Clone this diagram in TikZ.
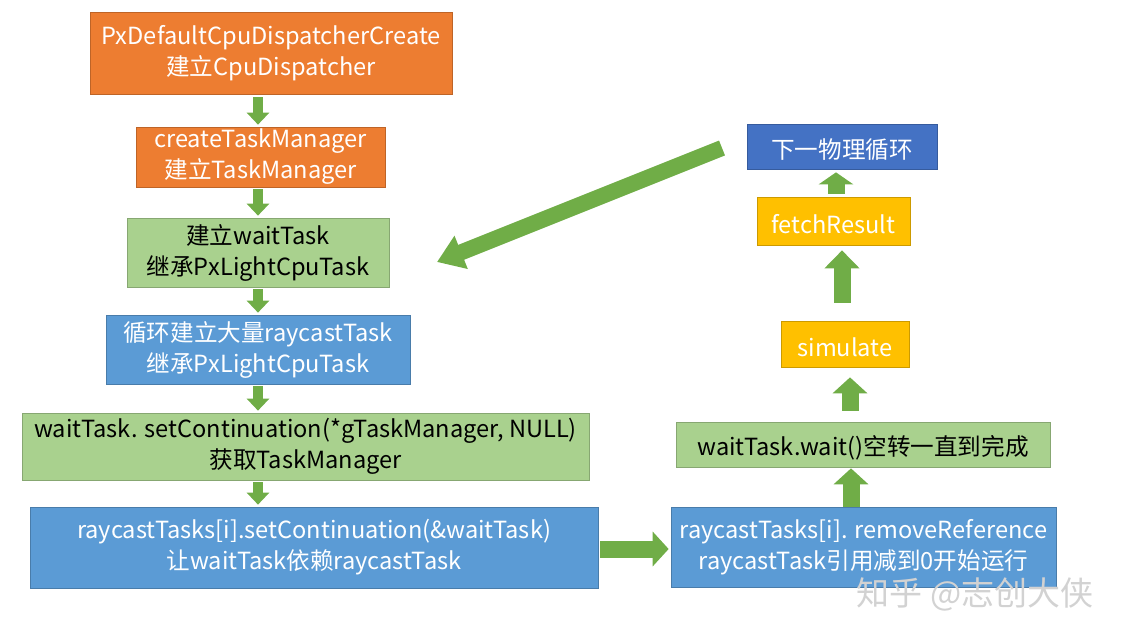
\documentclass[tikz,border=0pt]{standalone}
\usepackage{fontspec}
\setmainfont{Noto Sans CJK SC}
\usetikzlibrary{arrows.meta,calc}
\definecolor{orangeC}{HTML}{ED7D31}
\definecolor{greenC}{HTML}{A9D18E}
\definecolor{blueC}{HTML}{5B9BD5}
\definecolor{dblueC}{HTML}{4472C4}
\definecolor{yellowC}{HTML}{FFC000}
\definecolor{arrowC}{HTML}{70AD47}
\begin{document}
\begin{tikzpicture}[x=1pt,y=-1pt,
  box/.style={draw=#1!80!black, fill=#1, inner sep=0pt, align=center,
    font=\fontsize{23.6}{31}\selectfont, line width=0.7pt,
    execute at begin node={\rule{0pt}{26pt}}},
  ga/.style={line width=10pt, draw=arrowC, -{Triangle[width=22pt,length=12pt]}},
  gb/.style={line width=17pt, draw=arrowC, -{Triangle[width=34pt,length=16pt]}},
]
\useasboundingbox (0,0) rectangle (1124,642);
\node[box=orangeC, text=white, minimum width=362pt, minimum height=82pt] (n1) at (271,53) {PxDefaultCpuDispatcherCreate\\建立CpuDispatcher};
\node[box=orangeC, text=white, minimum width=249pt, minimum height=60pt] (n2) at (260.5,157) {createTaskManager\\建立TaskManager};
\node[box=greenC, text=black, minimum width=262pt, minimum height=69pt] (n3) at (258,252.5) {建立waitTask\\继承PxLightCpuTask};
\node[box=blueC, text=white, minimum width=304pt, minimum height=69pt] (n4) at (258,349.5) {循环建立大量raycastTask\\继承PxLightCpuTask};
\node[box=greenC, text=black, minimum width=567pt, minimum height=67pt] (n5) at (305.5,446.5) {waitTask. setContinuation(*gTaskManager, NULL)\\获取TaskManager};
\node[box=blueC, text=white, minimum width=568pt, minimum height=81pt] (n6) at (314,547.5) {raycastTasks[i].setContinuation(\&waitTask)\\让waitTask依赖raycastTask};
\node[box=blueC, text=white, minimum width=385pt, minimum height=80pt] (n7) at (863.5,547) {raycastTasks[i]. removeReference\\raycastTask引用减到0开始运行};
\node[box=greenC, text=black, minimum width=374pt, minimum height=45pt] (n8) at (863,444.5) {waitTask.wait()空转一直到完成};
\node[box=yellowC, text=white, minimum width=128pt, minimum height=46pt] (n9) at (845,344) {simulate};
\node[box=yellowC, text=white, minimum width=153pt, minimum height=48pt] (n10) at (833.5,221) {fetchResult};
\node[box=dblueC, text=white, minimum width=190pt, minimum height=45pt] (n11) at (842,146.5) {下一物理循环};
\node[text=gray!35, font=\fontsize{33}{36}\selectfont] (wm) at (975,594) {知乎 @志创大侠};

\coordinate (ax) at (258,0);
\draw[ga, shorten <=3pt, shorten >=2pt] (n1.south -| ax) -- (n2.north -| ax);
\draw[ga, shorten <=2pt, shorten >=2pt] (n2.south -| ax) -- (n3.north -| ax);
\draw[ga, shorten <=2pt, shorten >=2pt] (n3.south -| ax) -- (n4.north -| ax);
\draw[ga, shorten <=2pt, shorten >=2pt] (n4.south -| ax) -- (n5.north -| ax);
\draw[ga, shorten <=2pt, shorten >=2pt] (n5.south -| ax) -- (n6.north -| ax);

\coordinate (b1) at (851,0);
\coordinate (b2) at (850,0);
\coordinate (b3) at (842,0);
\coordinate (b4) at (836,0);
\coordinate (hy) at (0,549);
\draw[gb, shorten <=2pt, shorten >=2pt] (n6.east |- hy) -- (n7.west |- hy);
\draw[gb, shorten <=0pt, shorten >=1pt] (n7.north -| b1) -- (n8.south -| b1);
\draw[gb, shorten <=11pt, shorten >=10pt] (n8.north -| b2) -- (n9.south -| b2);
\draw[gb, shorten <=18pt, shorten >=5pt, -{Triangle[width=34pt,length=18pt]}] (n9.north -| b3) -- (n10.south -| b3);
\draw[gb, shorten <=3pt, shorten >=3pt, -{Triangle[width=34pt,length=12pt]}] (n10.north -| b4) -- (n11.south -| b4);

\coordinate (dtail) at (722,148);
\coordinate (dtip) at (437,262);
\draw[line width=16pt, draw=arrowC, -{Triangle[width=34pt,length=26pt]}] (dtail) -- (dtip);
\end{tikzpicture}
\end{document}
